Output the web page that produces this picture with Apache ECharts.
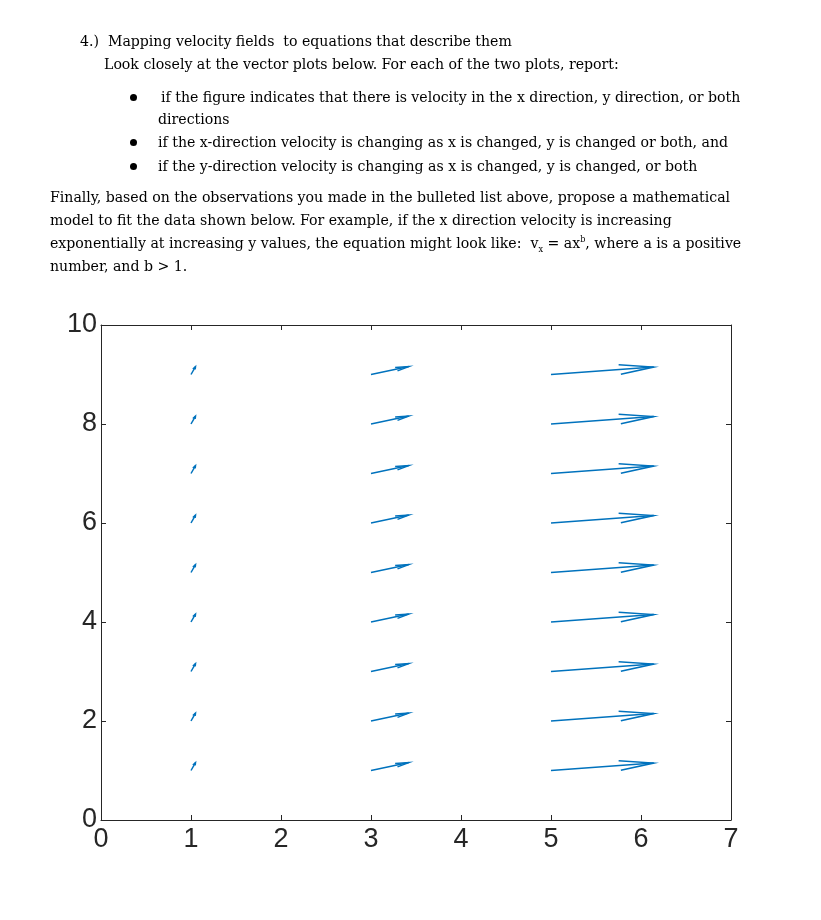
<!DOCTYPE html>
<html>
<head>
<meta charset="utf-8">
<script src="https://cdn.jsdelivr.net/npm/echarts@6/dist/echarts.min.js"></script>
<style>
  html, body { margin: 0; padding: 0; background: #fff; }
  #wrap { position: relative; width: 821px; height: 920px; }
  #chart { position: absolute; left: 0; top: 0; width: 821px; height: 920px; }
  #text { position: absolute; left: 0; top: 0; width: 821px; font-family: "DejaVu Serif Condensed", "Liberation Serif", serif; font-size: 15.7px; color: #000; }
  .ln { position: absolute; white-space: pre; line-height: 20px; }
  .bul { position: absolute; width: 7px; height: 7px; border-radius: 50%; background: #000; }
  sub, sup { font-size: 9px; line-height: 0; }
</style>
</head>
<body>
<div id="wrap">
  <div id="chart"></div>
  <div id="text">
    <div class="ln" style="left:80px;top:31px">4.)  Mapping velocity fields  to equations that describe them</div>
    <div class="ln" style="left:104px;top:54px">Look closely at the vector plots below. For each of the two plots, report:</div>
    <div class="bul" style="left:130px;top:94px"></div>
    <div class="ln" style="left:161px;top:87px">if the figure indicates that there is velocity in the x direction, y direction, or both</div>
    <div class="ln" style="left:158px;top:109px">directions</div>
    <div class="bul" style="left:130px;top:139px"></div>
    <div class="ln" style="left:158px;top:132px">if the x-direction velocity is changing as x is changed, y is changed or both, and</div>
    <div class="bul" style="left:130px;top:163px"></div>
    <div class="ln" style="left:158px;top:156px">if the y-direction velocity is changing as x is changed, y is changed, or both</div>
    <div class="ln" style="left:50px;top:187px">Finally, based on the observations you made in the bulleted list above, propose a mathematical</div>
    <div class="ln" style="left:50px;top:210px">model to fit the data shown below. For example, if the x direction velocity is increasing</div>
    <div class="ln" style="left:50px;top:233px">exponentially at increasing y values, the equation might look like:  v<sub>x</sub> = ax<sup>b</sup>, where a is a positive</div>
    <div class="ln" style="left:50px;top:256px">number, and b &gt; 1.</div>
  </div>
</div>
<script>
// Quiver grid positions
var quiverX = [1, 3, 5];
var quiverY = [1, 2, 3, 4, 5, 6, 7, 8, 9];
// Drawn vector components per column (data units)
var uByColumn = [0.05, 0.42, 1.14];
var vByColumn = [0.16, 0.16, 0.15];
// Axis ticks
var xTicks = { min: 0, max: 7, interval: 1 };
var yTicks = { min: 0, max: 10, interval: 2 };

var arrows = [];
quiverX.forEach(function (x, i) {
  quiverY.forEach(function (y) {
    arrows.push([x, y, uByColumn[i], vByColumn[i]]);
  });
});

var alpha = 0.33, beta = 0.25;
var arrowColor = '#0072BD';
var axisColor = '#262626';

function renderArrow(params, api) {
  var x = api.value(0), y = api.value(1), u = api.value(2), v = api.value(3);
  var p0 = api.coord([x, y]);
  var p1 = api.coord([x + u, y + v]);
  var b1 = api.coord([x + u - alpha * (u + beta * v), y + v - alpha * (v - beta * u)]);
  var b2 = api.coord([x + u - alpha * (u - beta * v), y + v - alpha * (v + beta * u)]);
  var style = { stroke: arrowColor, lineWidth: 1.5, fill: null };
  return {
    type: 'group',
    children: [
      { type: 'polyline', shape: { points: [p0, p1] }, style: style },
      { type: 'polyline', shape: { points: [b1, p1, b2] }, style: style }
    ]
  };
}

var chart = echarts.init(document.getElementById('chart'), null, { renderer: 'canvas' });
var axisCommon = {
  type: 'value',
  splitLine: { show: false },
  axisLine: { show: true, onZero: false, lineStyle: { color: axisColor, width: 1 } },
  axisTick: { show: true, inside: true, length: 5, lineStyle: { color: axisColor, width: 1 } }
};
function ax(extra) { return Object.assign({}, axisCommon, extra); }

chart.setOption({
  animation: false,
  backgroundColor: 'transparent',
  grid: { left: 101, right: 90, top: 325, bottom: 100 },
  xAxis: [
    ax({ position: 'bottom', min: xTicks.min, max: xTicks.max, interval: xTicks.interval,
      axisLabel: { show: true, color: axisColor, fontSize: 27, fontFamily: 'Liberation Sans', margin: 6 } }),
    ax({ position: 'top', min: xTicks.min, max: xTicks.max, interval: xTicks.interval,
      axisLabel: { show: false } })
  ],
  yAxis: [
    ax({ position: 'left', min: yTicks.min, max: yTicks.max, interval: yTicks.interval,
      axisLabel: { show: true, color: axisColor, fontSize: 27, fontFamily: 'Liberation Sans', margin: 4 } }),
    ax({ position: 'right', min: yTicks.min, max: yTicks.max, interval: yTicks.interval,
      axisLabel: { show: false } })
  ],
  series: [{
    type: 'custom',
    xAxisIndex: 0,
    yAxisIndex: 0,
    renderItem: renderArrow,
    data: arrows,
    clip: false
  }]
});
</script>
</body>
</html>
